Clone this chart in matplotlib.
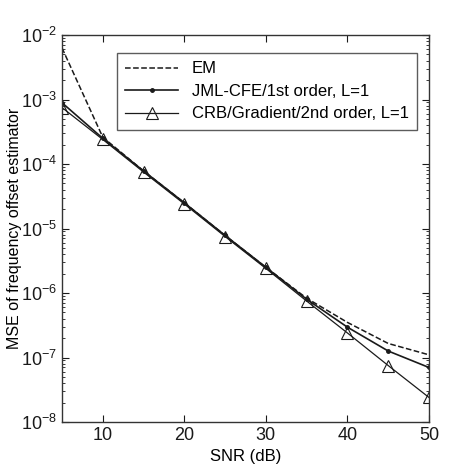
import numpy as np
import matplotlib
matplotlib.use('Agg')
import matplotlib.pyplot as plt
from matplotlib.ticker import LogLocator, NullFormatter

plt.rcParams['font.family'] = ['Liberation Sans', 'DejaVu Sans']

snr = [5, 10, 15, 20, 25, 30, 35, 40, 45, 50]
em = [6.3e-3, 2.6e-4, 7.8e-5, 2.5e-5, 7.8e-6, 2.5e-6, 8.3e-7, 3.5e-7, 1.65e-7, 1.1e-7]
jml = [8.9e-4, 2.5e-4, 7.8e-5, 2.5e-5, 7.8e-6, 2.5e-6, 8.0e-7, 2.95e-7, 1.26e-7, 7.0e-8]
crb = [7.5e-4, 2.4e-4, 7.5e-5, 2.4e-5, 7.5e-6, 2.4e-6, 7.5e-7, 2.4e-7, 7.5e-8, 2.4e-8]

labels = ['EM', 'JML-CFE/1st order, L=1', 'CRB/Gradient/2nd order, L=1']
col = '#1a1a1a'

fig = plt.figure(figsize=(4.74, 4.74), dpi=100)
ax = fig.add_axes([62 / 474, 52 / 474, 367 / 474, 387 / 474])

ax.semilogy(snr, em, '--', color=col, lw=1.1, label=labels[0])
ax.semilogy(snr, jml, '-', color=col, lw=1.2, marker='.', ms=5, label=labels[1])
ax.semilogy(snr, crb, '-', color=col, lw=0.9, marker='^', ms=9,
            mfc='none', mec=col, mew=0.8, label=labels[2])

ax.set_xlim(5, 50)
ax.set_ylim(1e-8, 1e-2)
ax.set_xticks([10, 20, 30, 40, 50])
ax.yaxis.set_major_locator(LogLocator(base=10, numticks=10))
ax.yaxis.set_minor_locator(LogLocator(base=10, subs=np.arange(2, 10), numticks=10))
ax.yaxis.set_minor_formatter(NullFormatter())
ax.tick_params(which='both', direction='in', top=True, right=True, labelsize=13, colors=col)
ax.tick_params(which='major', length=5, width=0.8)
ax.tick_params(which='minor', length=2.5, width=0.6)
for s in ax.spines.values():
    s.set_color('#333333')
    s.set_linewidth(1.0)

ax.set_xlabel('SNR (dB)', fontsize=12, labelpad=4)
ax.set_ylabel('MSE of frequency offset estimator', fontsize=11.5)
ax.yaxis.set_label_coords(-0.11, 0.5)

leg = ax.legend(loc='upper right', bbox_to_anchor=(0.99, 0.975), fontsize=12,
                frameon=True, fancybox=False, edgecolor='#333333',
                handlelength=3.2, borderpad=0.5, labelspacing=0.45)
leg.get_frame().set_linewidth(1.0)

fig.savefig('out.png', dpi=100)
